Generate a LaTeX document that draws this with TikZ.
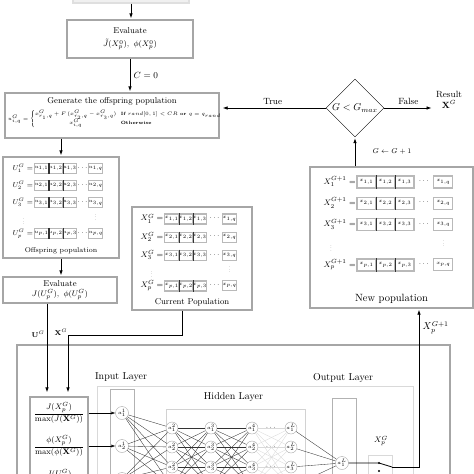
\documentclass[tikz,border=0pt]{standalone}
\usepackage{amsmath,amssymb,bm}
\usetikzlibrary{positioning,calc,shapes.geometric,arrows,arrows.meta,matrix,fit,backgrounds}

\newcommand{\smallvdots}{\scalebox{0.6}{$\vdots$}}

\tikzset{
  gbox/.style={draw=gray!70,line width=1.3pt,inner sep=0pt},
  lbox/.style={draw=gray!#1,line width=0.6pt,inner sep=0pt},
  lbox/.default=30,
  pcell/.style={draw=gray!55,line width=1.2pt,minimum width=14pt,minimum height=10pt,inner sep=0pt},
  popmat/.style={matrix of math nodes,row sep=#1,column sep=-1.2pt,
    nodes={inner sep=0pt,font=\fontsize{4}{5}\selectfont},
    column 1/.style={anchor=east,nodes={font=\scriptsize,inner xsep=2pt}},
    column 2/.style={nodes={pcell}},
    column 3/.style={nodes={pcell}},
    column 4/.style={nodes={pcell}},
    column 5/.style={nodes={minimum width=13pt,font=\scriptsize}},
    column 6/.style={nodes={pcell}},
    row 4/.style={nodes={draw=none,minimum height=0pt,font=\scriptsize}}},
  popmat/.default=6pt,
  neuron/.style={circle,draw=gray!70,fill=white,minimum size=12pt,inner sep=0pt,font=\fontsize{4}{4}\selectfont},
  nnline/.style={black!80,line width=0.35pt},
  fadeline/.style={gray!30,line width=0.35pt},
  flow/.style={thick,-{Latex[length=5pt,width=3.6pt]},shorten >=1pt}
}

\begin{document}
\begin{tikzpicture}[x=1pt,y=-1pt]
\clip (0,0) rectangle (474,474);
% upper flow chart
\node[gbox,draw=gray!25,fill=gray!12,minimum width=116pt,minimum height=24pt] (init) at (131,-9) {};
\node[gbox,minimum width=126pt,minimum height=38pt,align=center,font=\fontsize{8.5}{13}\selectfont] (eval1) at (130,39) {Evaluate\\ $\tilde{J}(X_p^0),\ \phi(X_p^0)$};
\node[gbox,minimum width=214pt,minimum height=45pt] (gen) at (112,115.5) {};
\node[font=\fontsize{8.5}{10}\selectfont] (gentit) at (112,101) {Generate the offspring population};
\node[font=\fontsize{4.6}{5.6}\selectfont] (genf) at (115,119) {$u^G_{i,q}=\left\{\begin{array}{@{}c@{\ \ }l@{}} x^G_{r_1,q}+F\,(x^G_{r_2,q}-x^G_{r_3,q}) & \textbf{If } rand[0,1]<CR \textbf{ or } q=q_{rand}\\ x^G_{i,q} & \textbf{Otherwise}\end{array}\right.$};
\node[diamond,draw,aspect=1,minimum size=58pt,inner sep=0pt] (dia) at (355,108) {$G<G_{max}$};
\node[align=center,font=\small] (res) at (449,100) {Result\\ $\mathbf{X}^G$};

% populations
\node[gbox,minimum width=116pt,minimum height=101pt] (offbox) at (61,207.5) {};
\matrix[popmat,matrix anchor=west] (offm) at (7,201) {
  U_1^G = & u_{1,1} & u_{1,2} & u_{1,3} & \dots & u_{1,q} \\
  U_2^G = & u_{2,1} & u_{2,2} & u_{2,3} & \dots & u_{2,q} \\
  U_3^G = & u_{3,1} & u_{3,2} & u_{3,3} & \dots & u_{3,q} \\[-3pt]
  |[xshift=-9pt]| \smallvdots & & & & & \smallvdots \\[-3pt]
  U_p^G = & u_{p,1} & u_{p,2} & u_{p,3} & \dots & u_{p,q} \\
};
\node[font=\scriptsize,above=1pt] (offlab) at (offbox.south) {Offspring population};
\node[gbox,minimum width=114pt,minimum height=26pt,align=center,font=\fontsize{8.5}{10.5}\selectfont] (eval2) at (60,290) {Evaluate\\ $J(U_p^G),\ \phi(U_p^G)$};

\node[gbox,minimum width=120pt,minimum height=103pt] (curbox) at (192,258.5) {};
\matrix[popmat=7pt,matrix anchor=west,column 1/.append style={nodes={font=\footnotesize}},
  column 5/.append style={nodes={minimum width=17pt}}] (curm) at (135,252.5) {
  X_1^G = & x_{1,1} & x_{1,2} & x_{1,3} & \dots & x_{1,q} \\
  X_2^G = & x_{2,1} & x_{2,2} & x_{2,3} & \dots & x_{2,q} \\
  X_3^G = & x_{3,1} & x_{3,2} & x_{3,3} & \dots & x_{3,q} \\[-4pt]
  |[xshift=-11pt]| \smallvdots & & & & & \smallvdots \\[-4pt]
  X_p^G = & x_{p,1} & x_{p,2} & x_{p,3} & \dots & x_{p,q} \\
};
\node[font=\fontsize{8.5}{10}\selectfont,above=1pt] (curlab) at (curbox.south) {Current Population};

\node[gbox,minimum width=163pt,minimum height=141pt] (newbox) at (391.5,237.5) {};
\matrix[popmat=8pt,matrix anchor=west,pcell/.append style={minimum width=19pt,minimum height=12pt},
  nodes={font=\fontsize{5}{6}\selectfont},column 1/.append style={nodes={font=\footnotesize}},
  column 5/.append style={nodes={minimum width=21pt}}] (newm) at (318,223.5) {
  X_1^{G+1} = & x_{1,1} & x_{1,2} & x_{1,3} & \dots & x_{1,q} \\
  X_2^{G+1} = & x_{2,1} & x_{2,2} & x_{2,3} & \dots & x_{2,q} \\
  X_3^{G+1} = & x_{3,1} & x_{3,2} & x_{3,3} & \dots & x_{3,q} \\[-1pt]
  |[xshift=-24pt]| \smallvdots & & & & & \smallvdots \\[-1pt]
  X_p^{G+1} = & x_{p,1} & x_{p,2} & x_{p,3} & \dots & x_{p,q} \\
};
\node[font=\fontsize{10.5}{12}\selectfont,above=2pt] (newlab) at (newbox.south) {New population};
\foreach \m in {offm,curm,newm}
  \foreach \r in {1,2,3,5}
    \foreach \c in {2,3}
      \draw[line width=1.2pt,black!80] (\m-\r-\c.north east) -- (\m-\r-\c.south east);

% arrows of the flow chart
\draw[flow] (init.south) -- (init.south |- eval1.north);
\draw[flow] (eval1.south) -- (eval1.south |- gen.north) node[midway,right,font=\small] (c0) {$C=0$};
\draw[flow] (gen.south -| offbox.north) -- (offbox.north);
\draw[flow] (offbox.south) -- (offbox.south |- eval2.north);
\draw[flow,shorten >=3pt] (dia.west) -- (dia.west -| gen.east) node[midway,above,font=\small] (tl) {True};
\draw[flow] (dia.east) -- (res.west |- dia.east) node[midway,above,font=\small] (fl) {False};
\draw[flow] (dia.south |- newbox.north) -- (dia.south) node[midway,right=14pt,font=\scriptsize] (gl) {$G\leftarrow G+1$};

% neural network
\node[gbox,minimum width=433pt,minimum height=200pt] (nnbox) at (233.5,445) {};
\node[lbox,minimum width=316pt,minimum height=160pt] (layerbox) at (255,466) {};
\node[lbox=60,minimum width=24pt,minimum height=160pt] (incol) at (122,469) {};
\node[lbox=35,minimum width=139pt,minimum height=140pt] (hidbox) at (235.5,479) {};
\node[lbox=60,minimum width=24pt,minimum height=150pt] (outcol) at (344,473) {};
\node[lbox,minimum width=24pt,minimum height=90pt] (swbox) at (380,500) {};
\node (inlab) at (121,377) {Input Layer};
\node (hidlab) at (233.5,397) {Hidden Layer};
\node (outlab) at (343,378) {Output Layer};
\node[gbox,minimum width=58pt,minimum height=130pt] (inbox) at (59,462) {};
\node[font=\footnotesize] (f1) at (59,413) {$\displaystyle\frac{J(X_p^G)}{\max(J(\mathbf{X}^G))}$};
\node[font=\footnotesize] (f2) at (59,446) {$\displaystyle\frac{\phi(X_p^G)}{\max(\phi(\mathbf{X}^G))}$};
\node[font=\footnotesize] (f3) at (59,480) {$\displaystyle\frac{J(U_p^G)}{\max(J(\mathbf{U}^G))}$};

\foreach \y [count=\i] in {413,446,479}
  \node[neuron,minimum size=13pt] (in\i) at (122,\y) {$a^{1}_{\i}$};
\foreach \x/\lab [count=\j] in {172/2,211/3,252/4,291/L}
  \foreach \y [count=\i] in {428,447,467,487}
    \node[neuron] (h\j\i) at (\x,\y) {$a^{\lab}_{\i}$};
\node[neuron,minimum size=13pt] (out) at (342,463) {$a^{L}_{1}$};
\foreach \i in {1,...,4}
  \node[font=\scriptsize] (dd\i) at ($(h3\i)!0.5!(h4\i)$) {$\cdots$};

\foreach \i in {1,2,3} \foreach \k in {1,...,4} \draw[nnline] (in\i) -- (h1\k);
\foreach \j/\n in {1/2,2/3}
  \foreach \i in {1,...,4} \foreach \k in {1,...,4} \draw[nnline] (h\j\i) -- (h\n\k);
\foreach \i in {1,...,4} \foreach \k in {1,...,4} \draw[fadeline] (h3\i) -- (h4\k);
\foreach \i in {1,...,4} \draw[nnline] (h4\i) -- (out);
\foreach \i in {1,2,3} \draw[-{Latex[length=4pt,width=3pt]}] (f\i -| inbox.east) -- (in\i);

% switch and way back to the new population
\node[font=\footnotesize] (xpg) at (381,441) {$X_p^G$};
\coordinate (s1) at (379,463);
\coordinate (s2) at (379,471);
\coordinate (s3) at (392,467);
\coordinate (r1) at (419,467);
\draw[thick] (out) -- (s1) -- (s3);
\fill (s1) circle (1.2pt) (s2) circle (1.2pt);
\draw[flow] (s3) -- (r1) -- (r1 |- newbox.south) node[pos=0.88,right] (xpg1) {$X_p^{G+1}$};

% inputs of the network
\coordinate (ua) at ([xshift=-13pt]eval2.south);
\draw[flow,shorten >=4pt] (ua) -- (ua |- inbox.north);
\coordinate (xc) at (68,335);
\draw[flow,shorten >=4pt] ([xshift=-10pt]curbox.south) |- (xc) -- (xc |- inbox.north);
\node[font=\scriptsize] (ul) at (38,334) {$\mathbf{U}^G$};
\node[font=\scriptsize] (xl) at (61,332) {$\mathbf{X}^G$};
\end{tikzpicture}
\end{document}
